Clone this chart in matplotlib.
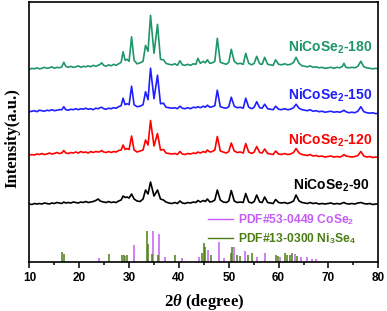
import numpy as np
import matplotlib.pyplot as plt
from matplotlib.lines import Line2D

plt.rcParams['font.family'] = 'Liberation Sans'
plt.rcParams['font.weight'] = 'bold'
plt.rcParams['mathtext.fontset'] = 'custom'
plt.rcParams['mathtext.rm'] = 'Liberation Sans:bold'
plt.rcParams['mathtext.it'] = 'Liberation Serif:bold:italic'
plt.rcParams['mathtext.bf'] = 'Liberation Sans:bold'

# shared 2-theta grid (degree)
two_theta = [
    10.0, 10.5, 11.0, 11.5, 12.0, 12.5, 13.0, 13.5, 14.0, 14.5, 15.0, 15.5, 16.0, 16.5,
    16.9, 17.3, 17.8, 18.3, 18.8, 19.3, 19.8, 20.3, 20.8, 21.3, 21.8, 22.3, 22.8, 23.3, 23.8,
    24.2, 24.5, 24.9, 25.4, 25.9, 26.4, 26.9, 27.4, 27.9,
    28.4, 28.8, 29.2, 29.6, 30.0, 30.5, 31.0, 31.6, 32.2, 32.8, 33.3, 33.8, 34.3, 35.0, 35.7, 36.3, 36.9, 37.4,
    38.0, 38.6, 39.2, 39.7, 40.2, 40.7, 41.2, 41.8, 42.3, 42.9, 43.4, 43.8, 44.3, 44.9, 45.3, 45.7, 46.2, 46.7, 47.2, 47.7,
    48.3, 48.9, 49.5, 50.0, 50.5, 51.1, 51.7, 52.3, 52.9, 53.4, 54.0, 54.6, 55.1, 55.6, 56.2, 56.7, 57.2, 57.8, 58.4, 58.9, 59.4,
    60.0, 60.6, 61.2, 61.8, 62.4, 63.0, 63.5, 64.1, 64.7, 65.3, 65.8, 66.3, 66.9, 67.5, 68.1, 68.7, 69.3, 69.9, 70.5, 71.1, 71.7, 72.3, 72.8, 73.1, 73.5,
    74.1, 74.7, 75.3, 75.9, 76.5, 77.1, 77.7, 78.3, 78.9, 79.5, 80.0,
]

i_90 = [
    0, -0.5, 0.5, 0, 0.5, 0, 1, 0.5, 0, 1, 0.5, 1.5, 1, 0.5,
    2, 1, 1.5, 1, 2, 1.5, 1, 2, 1.5, 2.5, 1.5, 2, 2.5, 3.5, 5,
    3, 2.5, 2, 1.5, 2.5, 1.5, 2, 1.5, 3,
    4, 8, 6.5, 7, 6, 10, 5, 3, 2.5, 5, 14, 10, 22, 8, 14, 5, 4, 2,
    1, 0.5, 1.5, 0.5, 3, 1, 0.5, 1.5, 1, 2, 1.5, 3.5, 2, 3.5, 2.5, 5, 2, 2.5, 4, 14,
    4, 2, 1.5, 3, 13.5, 3, 1.5, 2, 1.5, 10.5, 2, 1, 2.5, 9, 2, 1.5, 7, 1.5, 1, 0.5, 4.5,
    1.5, 1, 1.5, 0.5, 1.5, 3, 9, 3, 1.5, 1, 0.5, 1.5, 0.5, 1, 0, 0.5, 0, 0.5, 1, 0, 0.5, 0, 1, 1.5, 0.5,
    0, 0.5, 0, 1, 1.5, 0.5, 0, 0.5, -0.5, 0, 0,
]

i_120 = [
    0, 0.5, 0, 1, 0.5, 1.5, 0.5, 1, 2, 1, 1.5, 2.5, 1.5, 2,
    4.5, 2, 1.5, 2.5, 2, 3, 2, 3.5, 2.5, 3, 2, 3.5, 2.5, 3.5, 3,
    3.5, 4.5, 3, 2.5, 3.5, 2.5, 3.5, 3, 4.5,
    5, 10, 5.5, 6.5, 5.5, 19, 5, 3, 4, 5, 15, 10, 34.5, 9, 21.5, 5, 5.5, 2,
    1.5, 1, 1.5, 0.5, 3.5, 1, 0.5, 1.5, 1, 2, 1.5, 3, 2, 3.5, 2.5, 5, 3, 3.5, 5, 18.5,
    4, 3, 2, 3.5, 12, 4, 2.5, 3, 2, 11.5, 3, 1.5, 3, 8.5, 2.5, 2, 6, 1.5, 1, 0.5, 4,
    1, 0.5, 1.5, 0.5, 1, 2.5, 6.5, 2, 0.5, 0, -0.5, 0.5, -1, -0.5, -1.5, -1, -2, -1.5, -1, -2, -1.5, -2, -1, 0.5, -1,
    -1.5, -2, -1.5, -0.5, 3.5, -1, -2, -1.5, -2.5, -2, -2.5,
]

i_150 = [
    0, 0.5, 1, 0, 1.5, 1, 0.5, 1.5, 1, 2, 1, 1.5, 2, 2,
    5, 2, 1.5, 2.5, 2, 3, 2, 3, 2.5, 3.5, 2.5, 3, 2, 3.5, 3,
    4, 4.5, 3, 2.5, 3.5, 3, 4, 3.5, 5,
    6, 13.5, 7, 8, 7, 25.5, 7, 5, 5.5, 7, 20, 12, 43.5, 13, 36.5, 8, 8.5, 4.5,
    4, 3.5, 4, 3, 5.5, 3.5, 3, 4, 3, 4.5, 4, 5, 4, 5.5, 4.5, 6.5, 4.5, 5, 6, 21.5,
    5, 4, 3.5, 5, 14.5, 5.5, 4, 4.5, 3.5, 13.5, 4.5, 3, 4.5, 10, 4, 3.5, 7.5, 3, 2.5, 2, 5.5,
    2.5, 2, 3, 2, 2.5, 4, 7.5, 3.5, 2, 1.5, 1, 2, 0.5, 1, 0, 0.5, -0.5, 0, 0.5, -0.5, 0, -0.5, 0.5, 1.5, 0,
    -1, -0.5, -1, 0.5, 5, 0, -1, -1.5, -1, -2, -1.5,
]

i_180 = [
    0, 1, 0.5, 1.5, 0.5, 1, 2, 1, 1.5, 2.5, 1, 2, 1.5, 2.5,
    7, 3, 2, 3, 2, 2.5, 3.5, 2, 3, 2.5, 3.5, 2.5, 4, 3, 4,
    5, 6.5, 4, 3, 4.5, 3.5, 5, 4, 5.5,
    7, 17.5, 9, 10, 8, 32.5, 9, 5.5, 6.5, 8, 24, 18, 54, 16, 45, 10, 9.5, 6,
    5, 4.5, 5.5, 4, 8.5, 4.5, 4, 5, 4, 5.5, 5, 11, 6, 8, 6.5, 9.5, 6, 6.5, 8, 31,
    7, 6, 5, 7, 20, 8, 5.5, 6, 5, 16, 6, 4.5, 6, 13, 5.5, 5, 12, 5, 4.5, 4, 9.5,
    5, 4.5, 5.5, 4.5, 5, 7, 12, 6, 3.5, 3, 2.5, 3.5, 2, 2.5, 1.5, 2, 1, 1.5, 2, 1, 2, 1.5, 3, 6, 2,
    1.5, 2, 1.5, 3, 8, 2.5, 1.5, 1, 0.5, 1, 0.5,
]

samples = ['NiCoSe$_2$-90', 'NiCoSe$_2$-120', 'NiCoSe$_2$-150', 'NiCoSe$_2$-180']
offsets = [57.7, 106.7, 150, 192.4]
colors = ['black', '#ff0000', '#1f1fff', '#1e9668']

# reference patterns (position, relative intensity)
ni3se4_pos = [16.6, 17.0, 26.0, 28.6, 28.9, 29.5, 33.5, 33.8, 34.5, 35.9, 39.3, 44.7, 45.0, 45.3,
              46.5, 50.4, 50.7, 51.6, 52.3, 53.9, 54.6, 59.4, 59.8, 61.2, 61.7, 62.2, 62.7, 63.7]
ni3se4_int = [10, 7.7, 7.7, 6.7, 6.7, 7, 30.7, 17.7, 7.7, 6.7, 6.7, 8.7, 18.4, 15,
              7, 8.4, 14.4, 6.7, 5.7, 6.7, 9, 6.7, 6, 8.4, 7, 6.5, 8.4, 5.7]
cose2_pos = [23.9, 29.1, 30.9, 34.7, 36.1, 37.2, 40.6, 44.1, 45.8, 48.0, 49.1, 51.1, 53.3,
             55.6, 57.2, 60.3, 63.3, 64.5, 65.6, 66.6, 67.5]
cose2_int = [3.4, 6, 16.7, 30.7, 27.7, 4.4, 3.4, 5, 12, 20, 3.4, 15, 11,
             5, 8.5, 5, 8, 5, 4.4, 3, 2.5]

violet = '#c45cf5'
olive = '#4d7d16'

fig = plt.figure(figsize=(3.87, 3.11), dpi=100)
ax = fig.add_axes([0.076, 0.1585, 0.9015, 0.835])

for y, off, c in zip([i_90, i_120, i_150, i_180], offsets, colors):
    ax.plot(two_theta, np.array(y) + off, color=c, lw=1.2)

ax.vlines(cose2_pos, 0, cose2_int, color=violet, lw=1.1)
ax.vlines(ni3se4_pos, 0, ni3se4_int, color=olive, lw=1.1)

label_y = [71.7, 116.7, 161.7, 210]
label_x = [78.3, 78.9, 78.9, 78.9]
for s, c, lx, ly in zip(samples, colors, label_x, label_y):
    ax.text(lx, ly, s, color=c, fontsize=10, fontweight='bold',
            ha='right', va='baseline')

handles = [Line2D([], [], color=violet, lw=1.0), Line2D([], [], color=olive, lw=1.0)]
ax.legend(handles, ['PDF#53-0449 CoSe$_2$', 'PDF#13-0300 Ni$_3$Se$_4$'],
          loc='center left', bbox_to_anchor=(0.512, 0.124), frameon=False,
          labelcolor=[violet, olive], handlelength=2.1,
          handletextpad=0.35, borderpad=0, borderaxespad=0, labelspacing=0.35,
          prop={'weight': 'bold', 'size': 8.7})

ax.set_xlim(10, 80)
ax.set_ylim(0, 259.7)
ax.set_xticks(np.arange(10, 81, 10))
ax.set_xticks(np.arange(15, 80, 10), minor=True)
ax.set_yticks([])
ax.tick_params(axis='x', which='major', length=4, width=1.1, labelsize=8.5, pad=3.5)
ax.tick_params(axis='x', which='minor', length=2.5, width=1.1)
for lab in ax.get_xticklabels():
    lab.set_fontweight('bold')
for sp in ax.spines.values():
    sp.set_linewidth(1.2)

ax.set_xlabel(r'2$\theta$ (degree)', family='Liberation Serif', fontweight='bold', fontsize=12, labelpad=6)
ax.set_ylabel('Intensity(a.u.)', family='Liberation Serif', fontweight='bold', fontsize=12)
ax.yaxis.set_label_coords(-0.026, 0.478)

fig.savefig('out.png', dpi=100)
